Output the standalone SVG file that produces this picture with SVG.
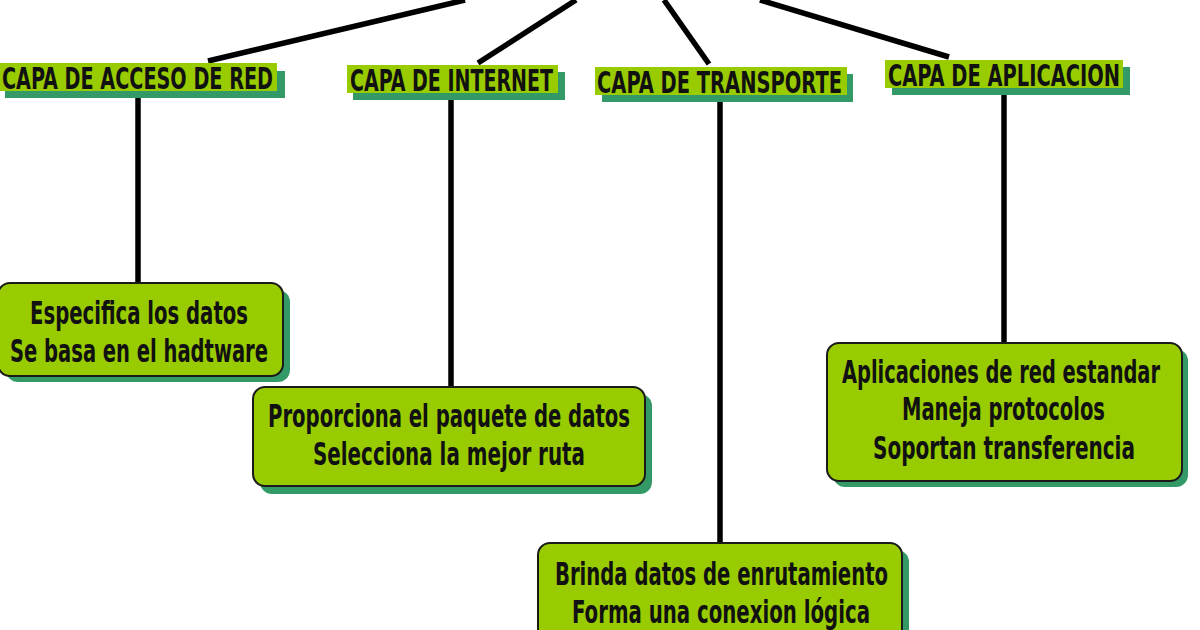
<svg xmlns="http://www.w3.org/2000/svg" width="1200" height="630" viewBox="0 0 1200 630">
<style>
.hdr{fill:#99cc00}
.sh{fill:#339966}
.box{fill:#99cc00;stroke:#1a1a1a;stroke-width:2}
.bsh{fill:#339966}
.t{font-family:"DejaVu Sans Condensed","DejaVu Sans",sans-serif;font-stretch:condensed;font-weight:bold;fill:#111;text-anchor:start}
.ht{font-size:31px}
.bt{font-size:32px}
.ln{stroke:#000;stroke-width:5.5;fill:none;stroke-linecap:butt}
</style>
<rect width="1200" height="630" fill="#fff"/>
<g id="connectors">
<line class="ln" x1="208" y1="61" x2="465" y2="0"/>
<line class="ln" x1="478" y1="63" x2="576" y2="0"/>
<line class="ln" x1="709" y1="64" x2="664" y2="0"/>
<line class="ln" x1="949" y1="57" x2="760" y2="0"/>
<line class="ln" x1="138" y1="98" x2="138" y2="284"/>
<line class="ln" x1="451" y1="100" x2="451" y2="387"/>
<line class="ln" x1="720" y1="102" x2="720" y2="544"/>
<line class="ln" x1="1004" y1="95" x2="1004" y2="343"/>
</g>
<g id="h1">
<rect class="sh" x="5" y="71" width="280" height="27"/>
<rect class="hdr" x="0" y="63" width="277" height="28"/>
<text class="t ht" x="2" y="89" textLength="271" lengthAdjust="spacingAndGlyphs">CAPA DE ACCESO DE RED</text>
</g>
<g id="h2">
<rect class="sh" x="353" y="72" width="212" height="28"/>
<rect class="hdr" x="347" y="65" width="211" height="28"/>
<text class="t ht" x="350" y="91" textLength="203" lengthAdjust="spacingAndGlyphs">CAPA DE INTERNET</text>
</g>
<g id="h3">
<rect class="sh" x="602" y="74" width="251" height="28"/>
<rect class="hdr" x="595" y="67" width="252" height="28"/>
<text class="t ht" x="597" y="93" textLength="245" lengthAdjust="spacingAndGlyphs">CAPA DE TRANSPORTE</text>
</g>
<g id="h4">
<rect class="sh" x="892" y="67" width="238" height="28"/>
<rect class="hdr" x="885" y="60" width="238" height="28"/>
<text class="t ht" x="888" y="86" textLength="232" lengthAdjust="spacingAndGlyphs">CAPA DE APLICACION</text>
</g>
<g id="b1">
<rect class="bsh" x="6" y="290" width="284" height="92" rx="12"/>
<rect class="box" x="-2" y="283" width="285" height="93" rx="12"/>
<text class="t bt" x="30" y="324" textLength="218" lengthAdjust="spacingAndGlyphs">Especifica los datos</text>
<text class="t bt" x="10" y="362" textLength="258" lengthAdjust="spacingAndGlyphs">Se basa en el hadtware</text>
</g>
<g id="b2">
<rect class="bsh" x="260" y="394" width="392" height="100" rx="12"/>
<rect class="box" x="253" y="387" width="392" height="99" rx="12"/>
<text class="t bt" x="268" y="427" textLength="362" lengthAdjust="spacingAndGlyphs">Proporciona el paquete de datos</text>
<text class="t bt" x="313" y="465" textLength="272" lengthAdjust="spacingAndGlyphs">Selecciona la mejor ruta</text>
</g>
<g id="b3">
<rect class="bsh" x="545" y="550" width="364" height="100" rx="12"/>
<rect class="box" x="538" y="543" width="364" height="100" rx="12"/>
<text class="t bt" x="555" y="585" textLength="333" lengthAdjust="spacingAndGlyphs">Brinda datos de enrutamiento</text>
<text class="t bt" x="572" y="623" textLength="298" lengthAdjust="spacingAndGlyphs">Forma una conexion lógica</text>
</g>
<g id="b4">
<rect class="bsh" x="833" y="349" width="355" height="138" rx="12"/>
<rect class="box" x="827" y="343" width="355" height="138" rx="12"/>
<text class="t bt" x="842" y="383" textLength="318" lengthAdjust="spacingAndGlyphs">Aplicaciones de red estandar</text>
<text class="t bt" x="902" y="420" textLength="203" lengthAdjust="spacingAndGlyphs">Maneja protocolos</text>
<text class="t bt" x="873" y="459" textLength="262" lengthAdjust="spacingAndGlyphs">Soportan transferencia</text>
</g>
</svg>
